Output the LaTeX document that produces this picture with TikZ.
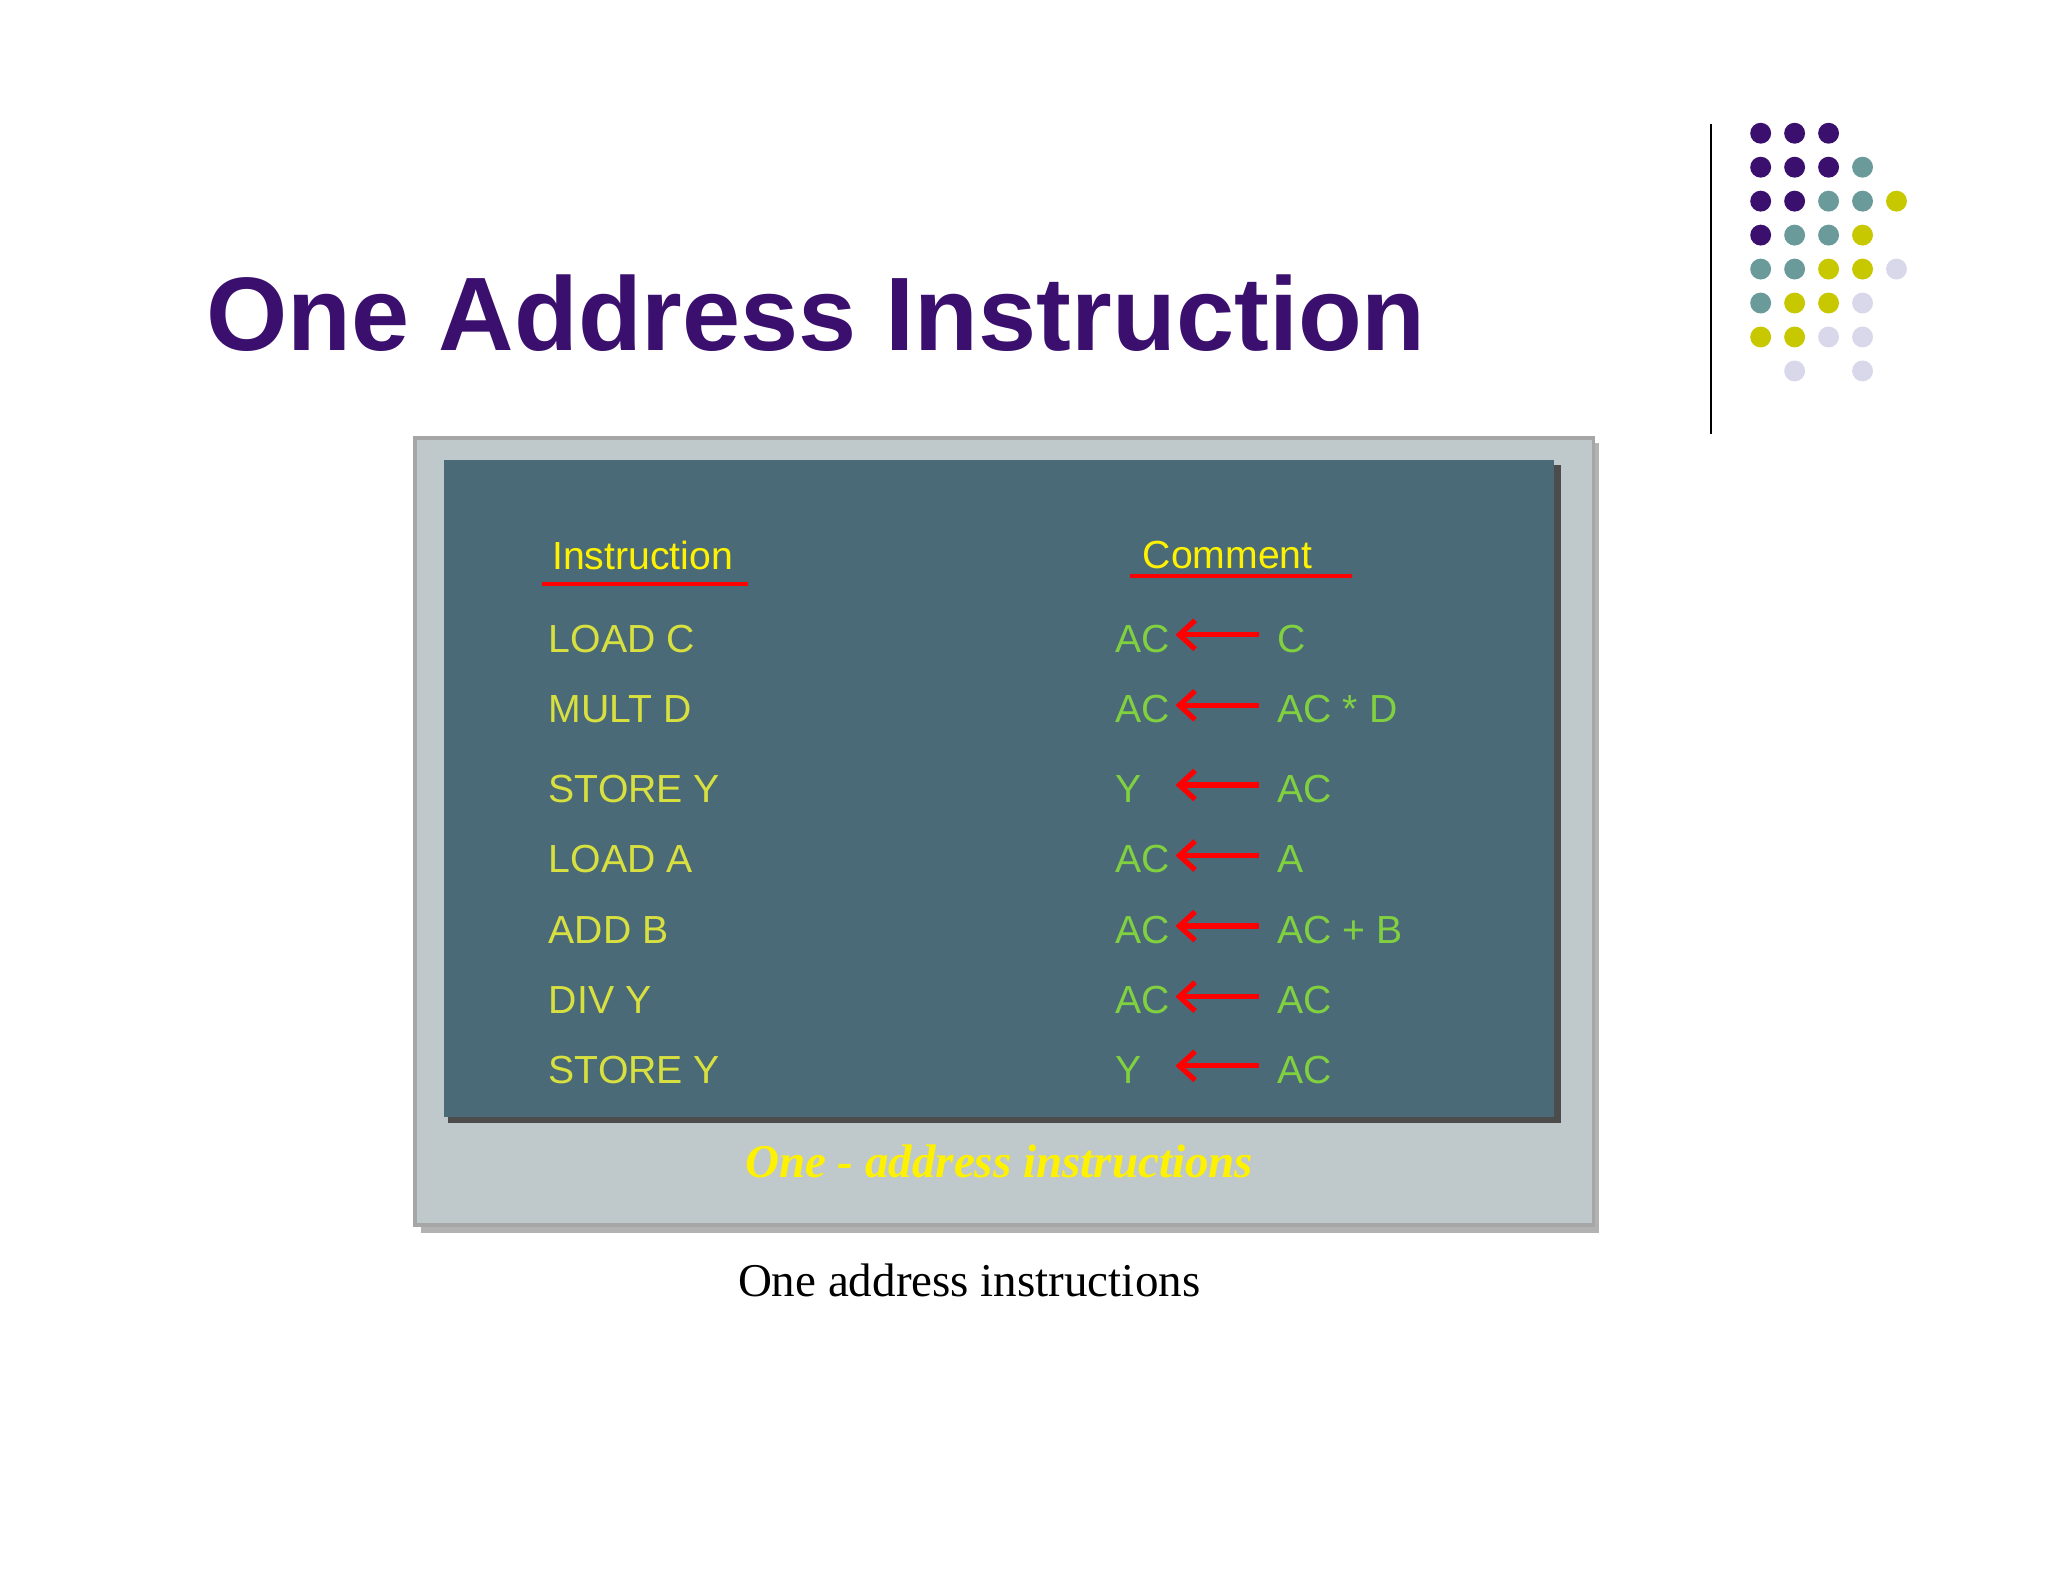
\documentclass[tikz,border=0pt]{standalone}
\usepackage{fontspec}
\setmainfont{Liberation Sans}
\newfontfamily\serifcap{Liberation Serif}
\begin{document}
\begin{tikzpicture}[x=1pt,y=-1pt,
  dotP/.style={fill=dPur},
  instr/.style={anchor=west,text=instrY,font=\fontsize{30}{30}\selectfont,inner sep=0},
  com/.style={anchor=west,text=comG,font=\fontsize{30}{30}\selectfont,inner sep=0},
  redarr/.style={draw=red,line width=4pt,-{Straight Barb[length=12pt,width=22pt]}}]
\usetikzlibrary{arrows.meta}
\definecolor{dPur}{HTML}{3B0F6E}
\definecolor{dTeal}{HTML}{6A9A9A}
\definecolor{dYel}{HTML}{C8C800}
\definecolor{dLav}{HTML}{D8D8EA}
\definecolor{slate}{HTML}{4A6A78}
\definecolor{panel}{HTML}{BFC9CB}
\definecolor{instrY}{HTML}{D8E040}
\definecolor{comG}{HTML}{80D040}
\useasboundingbox[fill=white] (0,0) rectangle (1568,1211);
% dots
\foreach \x/\y/\c in {1348/102/dPur,1374/102/dPur,1400/102/dPur,
 1348/128/dPur,1374/128/dPur,1400/128/dPur,1426/128/dTeal,
 1348/154/dPur,1374/154/dPur,1400/154/dTeal,1426/154/dTeal,1452/154/dYel,
 1348/180/dPur,1374/180/dTeal,1400/180/dTeal,1426/180/dYel,
 1348/206/dTeal,1374/206/dTeal,1400/206/dYel,1426/206/dYel,1452/206/dLav,
 1348/232/dTeal,1374/232/dYel,1400/232/dYel,1426/232/dLav,
 1348/258/dYel,1374/258/dYel,1400/258/dLav,1426/258/dLav,
 1374/284/dLav,1426/284/dLav}
 \fill[\c] (\x,\y) circle (8);
\draw[line width=1.5pt] (1310,95) -- (1310,332);
\node[anchor=base west,inner sep=0,text=dPur,font=\fontsize{80}{80}\selectfont\bfseries] (title) at (158,268) {One Address Instruction};
% frame
\fill[gray!60] (322,339) rectangle (1224,944);
\fill[panel,draw=gray!70,line width=3pt] (318,335) rectangle (1220,938);
\fill[black!70] (343,356) rectangle (1195,860);
\fill[slate] (340,352) rectangle (1190,855);
\node[text=yellow,font=\fontsize{36}{36}\selectfont\bfseries\itshape\serifcap] (foot) at (765,889) {One - address instructions};
\node[font=\fontsize{36}{36}\selectfont\serifcap] (cap) at (742,980) {One address instructions};
% headers
\node[text=yellow,font=\fontsize{30}{30}\selectfont] (h1) at (492,425) {Instruction};
\draw[red,line width=3.5pt] (415,447) -- (573,447);
\node[text=yellow,font=\fontsize{30}{30}\selectfont] (h2) at (940,425) {Comment};
\draw[red,line width=3.5pt] (865,441) -- (1035,441);
% rows
\foreach \i/\y/\ins/\l/\r in {1/489/LOAD C/AC/C,2/543/MULT D/AC/AC * D,3/604/STORE Y/Y/AC,4/658/LOAD A/AC/A,5/712/ADD B/AC/AC + B,6/766/DIV Y/AC/AC / Y,7/819/STORE Y/Y/AC}{
 \node[instr] (in\i) at (420,\y) {\ins};
 \node[com] (l\i) at (854,\y) {\l};
 \node[com] (r\i) at (978,\y) {\r};
 \coordinate (as\i) at (964,\y-3);
 \coordinate (ae\i) at (900,\y-3);
 \draw[redarr] (as\i) -- (ae\i);
}
\end{tikzpicture}
\end{document}
